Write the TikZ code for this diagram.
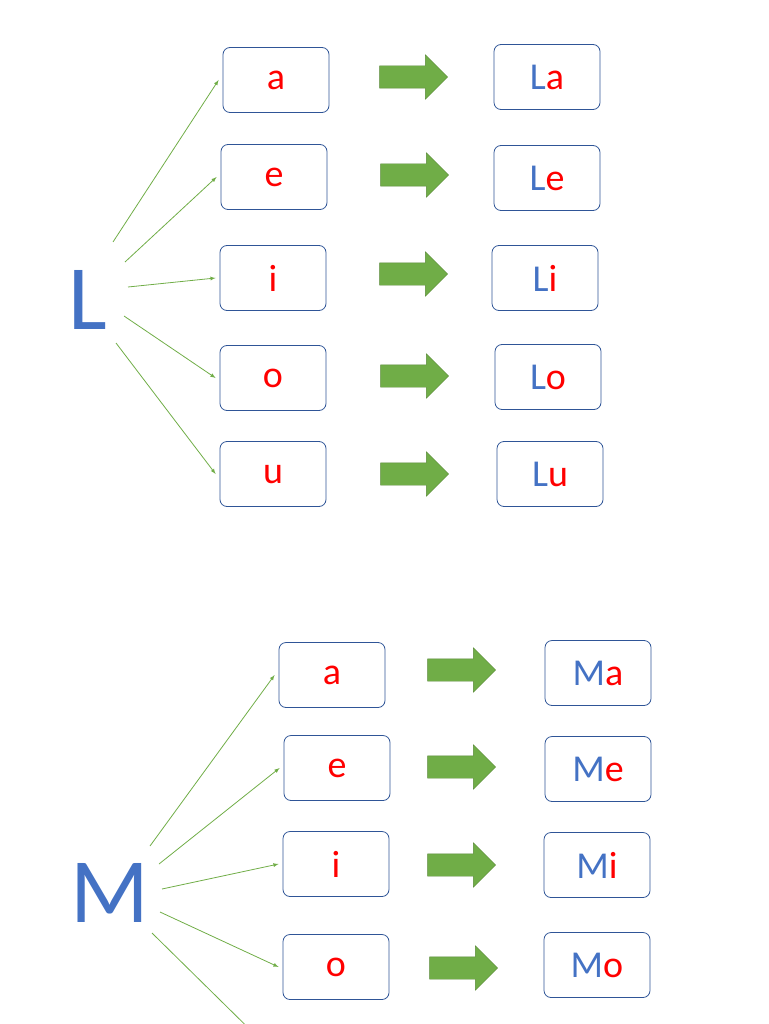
\documentclass[tikz,border=0pt]{standalone}
\usepackage{fontspec}
\setmainfont{Carlito}
\usetikzlibrary{shapes.arrows}
\definecolor{offblue}{RGB}{68,114,196}
\definecolor{boxline}{RGB}{47,85,151}
\definecolor{offgreen}{RGB}{112,173,71}

\begin{document}
\begin{tikzpicture}[x=1pt,y=-1pt]
        \useasboundingbox (0,0) rectangle (768,1024);
        \clip (0,0) rectangle (768,1024);

        \tikzstyle{b} = [draw=boxline, line width=0.8pt, rounded corners=7pt, minimum width=106pt, minimum height=65pt, text depth=0pt, font=\fontsize{38}{38}\selectfont, text=red];
        \tikzstyle{ba} = [single arrow, draw=offgreen!80!black, fill=offgreen, inner sep=11pt, minimum height=68pt, single arrow head extend=11pt, single arrow head indent=0pt];
        \tikzstyle{s} = [draw=offgreen, -latex, line width=0.8pt];

        % L block
        \node [text=offblue, font=\fontsize{92}{92}\selectfont] (L) at (88,300) {L};
        \foreach \v/\vx/\vy/\ax/\ay/\rx/\ry [count=\i] in {a/276/80/408/77/547/77, e/274/177/409/175/547/178, i/273/278/408/274/545/278, o/273/378/409/376/548/377, u/273/474/409/474/550/474}{
            \node [b] (Lv\i) at (\vx,\vy) {\v};
            \node [ba] (La\i) at (\ax,\ay) {};
            \node [b] (Lr\i) at (\rx,\ry) {\textcolor{offblue}{L}\v};
        }
        \coordinate (Ls1) at (113,242);
        \coordinate (Ls2) at (125,262);
        \coordinate (Ls3) at (128,287);
        \coordinate (Ls4) at (124,316);
        \coordinate (Ls5) at (116,343);
        \foreach \i in {1, ..., 5}{
            \draw [s] (Ls\i) -- ([xshift=-4pt]Lv\i.west);
        }

        % M block
        \node [text=offblue, font=\fontsize{92}{92}\selectfont] (M) at (110,893) {M};
        \foreach \v/\vx/\vy/\ax/\ay/\rx/\ry [count=\i] in {a/332/675/456/670/598/673, e/337/768/456/767/598/769, i/336/864/456/865/597/865, o/336/967/458/968/597/965}{
            \node [b] (Mv\i) at (\vx,\vy) {\v};
            \node [ba] (Ma\i) at (\ax,\ay) {};
            \node [b] (Mr\i) at (\rx,\ry) {\textcolor{offblue}{M}\v};
        }
        \coordinate (Mv5) at (284,1063);
        \coordinate (Ms1) at (150,846);
        \coordinate (Ms2) at (159,864);
        \coordinate (Ms3) at (162,889);
        \coordinate (Ms4) at (160,912);
        \coordinate (Ms5) at (152,933);
        \foreach \i in {1, ..., 4}{
            \draw [s] (Ms\i) -- ([xshift=-4pt]Mv\i.west);
        }
        \draw [s] (Ms5) -- (Mv5);
    \end{tikzpicture}
\end{document}
